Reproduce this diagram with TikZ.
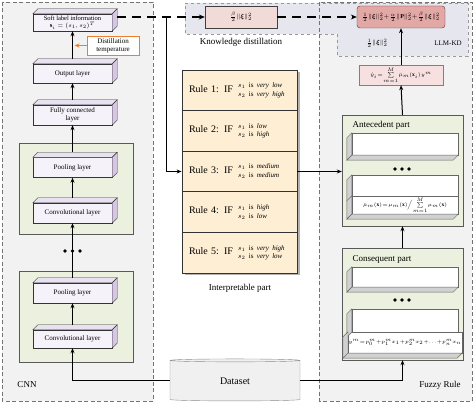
\documentclass[tikz,border=0pt]{standalone}
\usepackage{amsmath,amssymb}
\usepackage{fontspec}
\setmainfont{Liberation Serif}
\usetikzlibrary{arrows.meta,positioning,shapes.geometric}

\definecolor{panelbg}{RGB}{242,242,242}
\definecolor{kdbg}{RGB}{230,230,238}
\definecolor{slabfront}{RGB}{246,242,249}
\definecolor{slabtop}{RGB}{232,226,240}
\definecolor{slabside}{RGB}{214,198,228}
\definecolor{groupbg}{RGB}{235,241,222}
\definecolor{rulebg}{RGB}{253,238,212}
\definecolor{kdpink}{RGB}{242,218,214}
\definecolor{llmred}{RGB}{226,168,166}
\definecolor{llmline}{RGB}{110,40,40}
\definecolor{yhatpink}{RGB}{246,224,224}
\definecolor{tempor}{RGB}{237,125,49}

\tikzset{
  arr/.style={-{Stealth[length=5pt,width=4pt]}, line width=1pt},
  kdline/.style={line width=1.2pt, dash pattern=on 9pt off 6pt, -{Stealth[length=6pt,width=5pt]}},
  panelline/.style={draw=black!55, line width=0.9pt, dash pattern=on 4pt off 2.5pt},
  layer/.style={draw=black!80, fill=slabfront, minimum width=79pt, inner sep=1pt, align=center,
    font=\fontsize{7}{8}\selectfont},
  slabtop/.style={draw=black!80, fill=slabtop},
  slabside/.style={draw=black!80, fill=slabside},
  group/.style={draw=black!65, fill=groupbg},
  tightmath/.style={execute at begin node={\medmuskip=0.5mu\thickmuskip=1.5mu\thinmuskip=1mu}},
  fslab/.style={draw=black!60, fill=white, minimum width=106pt, inner sep=0.5pt, tightmath,
    font=\fontsize{5.5}{6.5}\selectfont},
  fface/.style={draw=black!60, fill=black!18},
  rulerow/.style={draw=black!80, line width=0.8pt, fill=rulebg, minimum width=115pt, minimum height=40.6pt,
    text width=101pt, align=left, inner sep=0pt, font=\fontsize{10}{12}\selectfont},
  formbox/.style={draw=black!75, inner sep=0.5pt, tightmath, font=\fontsize{6}{7}\selectfont},
  lbl/.style={font=\fontsize{9}{10}\selectfont}
}

\begin{document}
\begin{tikzpicture}[x=1pt,y=-1pt]
\useasboundingbox (0,0) rectangle (474,403);

% Panels
\fill[panelbg] (2,2) rectangle (153,401);
\fill[panelbg] (319,2) rectangle (472,401);
\filldraw[fill=kdbg, draw=black!40, dashed] (185,3) -- (468,3) -- (468,56) -- (337,56) -- (337,34) -- (185,34) -- cycle;
\draw[panelline] (2,2) rectangle (153,401);
\draw[panelline] (319,2) rectangle (472,401);

% CNN
\node[group, minimum width=114pt, minimum height=91pt] (g1) at (76,188.5) {};
\node[group, minimum width=114pt, minimum height=91pt] (g2) at (76,316.5) {};
\node[layer, minimum height=17pt, font=\fontsize{6.5}{7.5}\selectfont] (soft) at (72.5,22.5) {Soft label information\\$\mathbf{s}_i=(s_1,s_2)^T$};
\node[layer, minimum height=19pt] (out) at (72.5,73.5) {Output layer};
\node[layer, minimum height=20pt] (fc) at (72.5,115) {Fully connected\\layer};
\node[layer, minimum height=20pt] (pool1) at (72.5,167.5) {Pooling layer};
\node[layer, minimum height=20pt] (conv1) at (72.5,213) {Convolutional layer};
\node[layer, minimum height=20pt] (pool2) at (72.5,293) {Pooling layer};
\node[layer, minimum height=18pt] (conv2) at (72.5,339) {Convolutional layer};
\foreach \n in {soft,out,fc,pool1,conv1,pool2,conv2}{
  \filldraw[slabtop] (\n.north west) -- ([shift={(5,-5)}]\n.north west) -- ([shift={(5,-5)}]\n.north east) -- (\n.north east) -- cycle;
  \filldraw[slabside] (\n.north east) -- ([shift={(5,-5)}]\n.north east) -- ([shift={(5,-5)}]\n.south east) -- (\n.south east) -- cycle;
}
\draw[arr] ([yshift=5pt]conv2.north) -- (pool2.south);
\draw[arr] ([yshift=5pt]pool2.north) -- (conv1.south);
\draw[arr] ([yshift=5pt]conv1.north) -- (pool1.south);
\draw[arr] ([yshift=5pt]pool1.north) -- (fc.south);
\draw[arr] ([yshift=5pt]fc.north) -- (out.south);
\draw[arr] ([yshift=5pt]out.north) -- (soft.south);
\foreach \x in {65,72.5,80} \fill (\x,251) circle (1.8);

% Distillation temperature
\node[draw=tempor, line width=0.8pt, fill=white, minimum width=52pt, minimum height=19pt, inner sep=1pt,
  align=center, font=\fontsize{7}{8}\selectfont] (temp) at (113,45.5) {Distillation\\temperature};
\draw[arr, tempor, line width=1.4pt, shorten >=2pt] (temp.west) -- (temp.west -| out.north);

\node[lbl] (cnn) at (27,385) {CNN};

% Interpretable part
\fill[black!30] (184.5,72.5) rectangle (299.5,275.5);
\foreach \i/\a/\b in {1/very low/very high, 2/low/high, 3/medium/medium, 4/high/low, 5/very high/very low}{
  \node[rulerow] (rule\i) at (239.5,{49.7+40.6*\i}) {Rule \i: IF\hspace{5pt}{\fontsize{7}{8.5}\selectfont
    \begin{tabular}[c]{@{}l@{}}$s_1$ is \textit{\a}\\ $s_2$ is \textit{\b}\end{tabular}}};
}
\node[lbl] (interp) at (240,288) {Interpretable part};

% Knowledge distillation
\node[formbox, fill=kdpink, minimum width=72pt, minimum height=22pt, font=\fontsize{6.5}{7.5}\selectfont] (kdf) at (241,17) {$\frac{\beta}{2}\|\boldsymbol{\xi}\|_2^2$};
\node[lbl] (kdlbl) at (241,42) {Knowledge distillation};
\coordinate (br) at (166,17);
\draw[kdline] ([xshift=5pt]soft.east |- br) -- (kdf.west);
\draw[arr] (br) |- (rule3.west);

% LLM-KD
\node[formbox, draw=llmline, fill=llmred, rounded corners=3pt, minimum width=88pt, minimum height=22pt] (llm) at (401,17)
  {$\frac{1}{2}\|\boldsymbol{\xi}\|_2^2+\frac{\alpha}{2}\|\mathbf{P}\|_2^2+\frac{\beta}{2}\|\boldsymbol{\xi}\|_2^2$};
\node[font=\fontsize{6.5}{7.5}\selectfont] (half) at (377,43) {$\frac{1}{2}\|\boldsymbol{\xi}\|_2^2$};
\node[font=\fontsize{7}{8}\selectfont] (llmlbl) at (448,43) {LLM-KD};
\draw[kdline] (kdf.east) -- (llm.west);
\node[formbox, draw=black!50, fill=yhatpink, minimum width=84pt, minimum height=20pt, font=\fontsize{5.5}{6.5}\selectfont] (yhat) at (401,75)
  {$\hat{y}_i=\sum\limits_{m=1}^{M}\bar{\mu}_m(\mathbf{x}_i)\,y^m$};
\draw[arr] (yhat.north) -- (llm.south);

% Fuzzy rule
\node[group, minimum width=121pt, minimum height=111pt] (ante) at (402.5,170.5) {};
\node[group, minimum width=121pt, minimum height=112pt] (conseq) at (402.5,304) {};
\node[lbl, anchor=west] (antelbl) at (349,125) {Antecedent part};
\node[lbl, anchor=west] (conslbl) at (349,259) {Consequent part};
\node[fslab, minimum height=22pt] (a1) at (405,144) {};
\node[fslab, minimum height=21pt] (a2) at (405,185.5) {};
\node[fslab, minimum height=18pt] (a3) at (405,205)
  {$\bar{\mu}_m(\mathbf{x})=\mu_m(\mathbf{x})\Big/\sum\limits_{m=1}^{M}\mu_m(\mathbf{x})$};
\node[fslab, minimum height=20pt] (c1) at (405,277) {};
\node[fslab, minimum height=23pt] (c2) at (405,320.5) {};
\node[fslab, minimum height=21pt] (c3) at (405,342.5)
  {$y^m=p_0^m+p_1^m x_1+p_2^m x_2+\ldots+p_n^m x_n$};
\foreach \n in {a1,a2,a3,c1,c2,c3}
  \filldraw[fface] (\n.north west) -- ([shift={(-5,5)}]\n.north west) -- ([shift={(-5,5)}]\n.south west) -- (\n.south west) -- cycle;
\foreach \n in {a1,a3,c1,c3}
  \filldraw[fface] (\n.south west) -- ([shift={(-5,5)}]\n.south west) -- ([shift={(-5,5)}]\n.south east) -- (\n.south east) -- cycle;
\foreach \x in {395,402,409} {
  \fill (\x,169) circle (1.8);
  \fill (\x,300) circle (1.8);
}
\draw[arr] (rule3.east) -- (rule3.east -| ante.west);
\draw[arr] (ante.north) -- (yhat.south);
\draw[arr] (conseq.north) -- (ante.south);
\node[lbl] (fuzzy) at (440,385) {Fuzzy Rule};

% Dataset
\node[shape=cylinder, shape border rotate=90, aspect=0.08, draw=black!45, fill=black!6,
  minimum width=130pt, minimum height=42pt, font=\fontsize{10}{12}\selectfont] (data) at (235,381) {Dataset};
\draw[arr] (data.west) -| (conv2.south);
\draw[arr] (data.east) -| (conseq.south);
\end{tikzpicture}
\end{document}
